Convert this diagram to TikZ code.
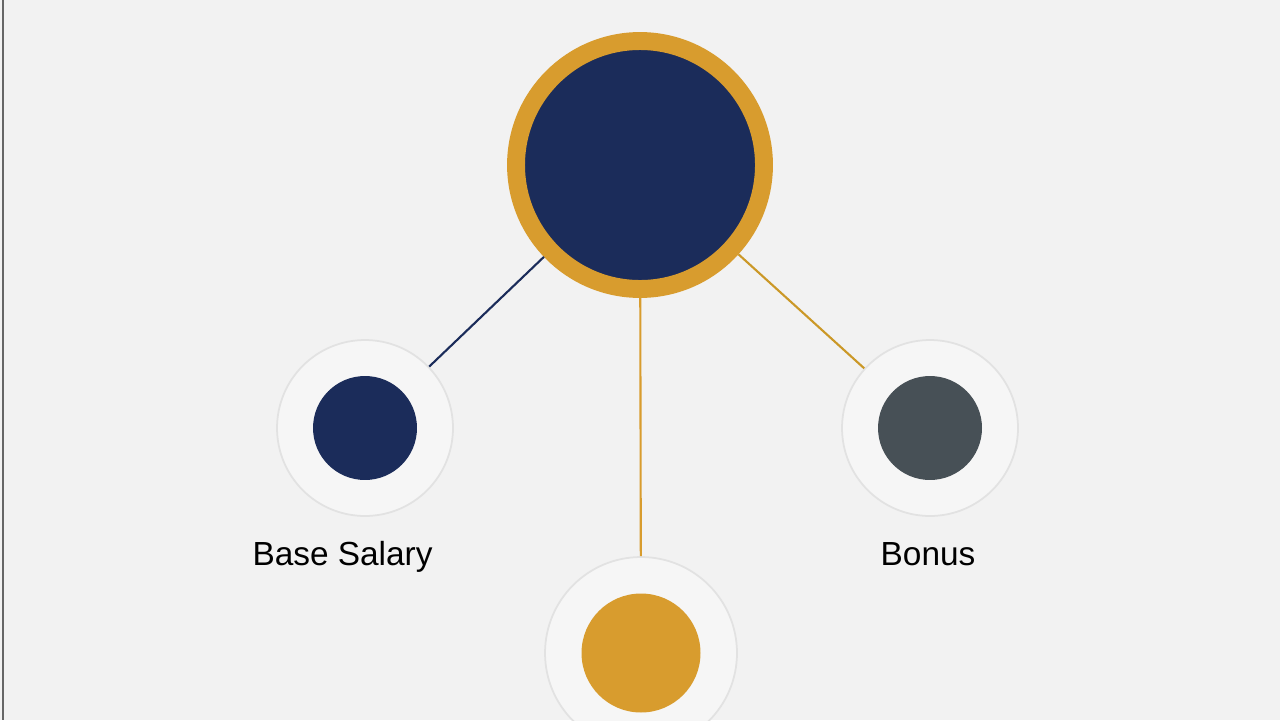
\documentclass[tikz,border=0pt]{standalone}
\usepackage{fontspec}
\setmainfont{Liberation Sans}
\definecolor{navy}{HTML}{1B2C5A}
\definecolor{gold}{HTML}{D89C2E}
\definecolor{slate}{HTML}{475056}
\definecolor{paper}{HTML}{F2F2F2}
\definecolor{ringgray}{HTML}{E2E2E2}
\begin{document}
\begin{tikzpicture}[x=0.02cm,y=-0.02cm]
	\fill[paper] (0,0) rectangle (1280,720);
	\useasboundingbox (0,0) rectangle (1280,720);
	\draw[line width=1.2pt,black!60] (3,0) -- (3,720);

	\begin{scope}[every node/.style={circle,inner sep=0pt},
		ring/.style={fill=white!30!paper,draw=ringgray,line width=1pt,minimum size=3.52cm},
		dot/.style={minimum size=2.08cm}]
		\node (hub) [fill=navy,draw=gold,line width=10.2pt,minimum size=4.96cm] at (640,165) {};
		\node (base) [ring] at (365,428) {};
		\node (bonus) [ring] at (930,428) {};
		\node (extra) [ring,minimum size=3.84cm] at (641,653) {};
		\node [dot,fill=navy] at (base) {};
		\node [dot,fill=slate] at (bonus) {};
		\node [dot,fill=gold,minimum size=2.38cm] at (extra) {};
	\end{scope}

	\begin{scope}[every edge/.style={draw,line width=1.2pt}]
		\path (hub) edge [navy] (base);
		\path (hub) edge [gold] (extra);
		\path (hub) edge [gold!85!olive] (bonus);
	\end{scope}

	\node (baselbl) [anchor=base,font=\fontsize{19}{22}\selectfont] at (342.5,565) {Base Salary};
	\node (bonuslbl) [anchor=base,font=\fontsize{19}{22}\selectfont] at (928,565) {Bonus};
\end{tikzpicture}
\end{document}
